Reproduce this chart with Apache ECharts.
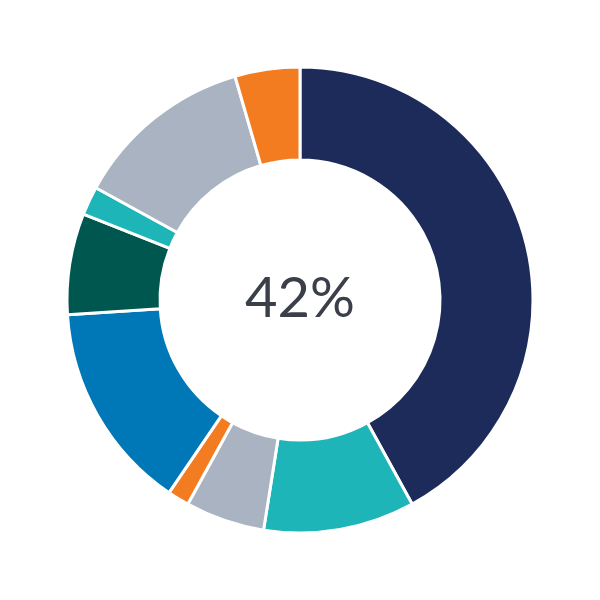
<!DOCTYPE html>
<html>
<head>
<meta charset="utf-8">
<script src="https://cdn.jsdelivr.net/npm/echarts@6/dist/echarts.min.js"></script>
<style>
  html, body { margin: 0; padding: 0; background: #ffffff; }
  #grafico { width: 600px; height: 600px; }
</style>
</head>
<body>
<div id="grafico"></div>
<script>
// Fatias no sentido horário a partir do topo
const categorias = ['A', 'B', 'C', 'D', 'E', 'F', 'G', 'H', 'I'];
const valores = [42, 10.5, 5.5, 1.5, 14.5, 7, 2, 12.5, 4.5];
const cores = ['#1c2b5a', '#1db5b8', '#a9b3c1', '#f47c20', '#0077b6', '#00574f', '#1db5b8', '#a9b3c1', '#f47c20'];
const textoCentro = '42%';

const chart = echarts.init(document.getElementById('grafico'));

chart.setOption({
    animation: false,
    title: {
        text: textoCentro,
        left: 'center',
        top: 266,
        textStyle: {
            fontFamily: 'Lato',
            fontSize: 56,
            fontWeight: 'normal',
            color: '#3a3f4a'
        }
    },
    series: [{
        type: 'pie',
        center: [300, 300],
        radius: [140, 233],
        startAngle: 90,
        clockwise: true,
        label: { show: false },
        labelLine: { show: false },
        itemStyle: { borderColor: '#ffffff', borderWidth: 3 },
        data: categorias.map((nome, i) => ({
            name: nome,
            value: valores[i],
            itemStyle: { color: cores[i] }
        }))
    }]
});
</script>
</body>
</html>
